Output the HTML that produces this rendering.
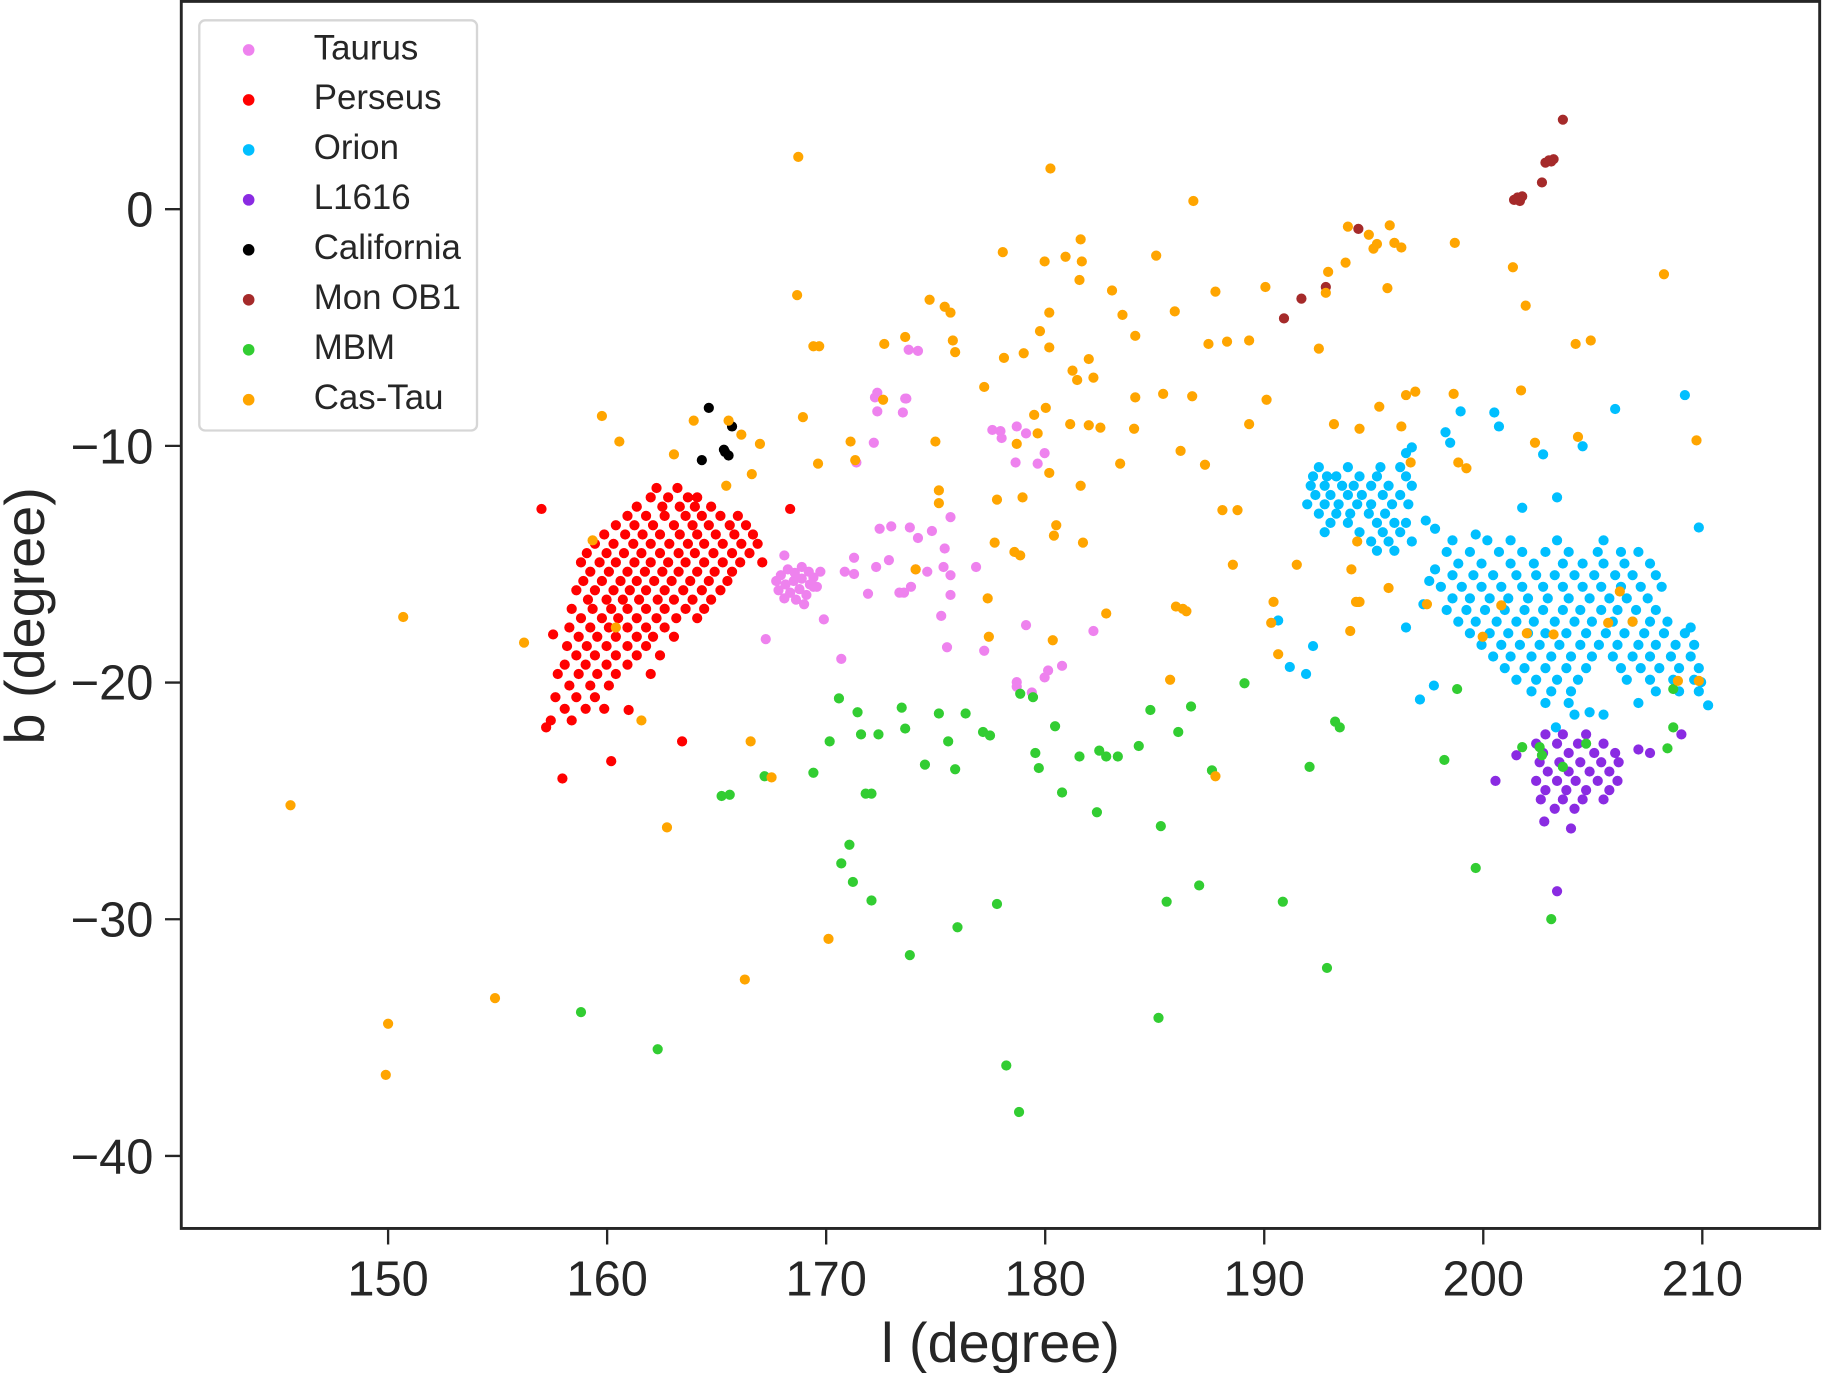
<!DOCTYPE html>
<html><head><meta charset="utf-8"><style>
html,body{margin:0;padding:0;background:#fff}
svg{display:block;font-family:"Liberation Sans",sans-serif}
path.d{fill:none;stroke-width:8.8;stroke-linecap:round}
</style></head><body>
<svg width="1822" height="1373" viewBox="0 0 1568 1181.6" xmlns="http://www.w3.org/2000/svg">
<rect width="1568" height="1182" fill="#fff"/>
<!-- Taurus -->
<path class="d" stroke="#ee82ee" d="M790 302h0M780 343h0M755 338h0M753 342h0M779 343h0M777 355h0M752 381h0M737 398h0M782 301h0M755 354h0M854 370h0M862 377h0M861 371h0M875 367h0M883 373h0M899 390h0M874 398h0M893 399h0M840 488h0M847 560h0M815 557h0M883 538h0M875 587h0M899 583h0M902 577h0M888 596h0M914 573h0M941 543h0M724 567h0M709 533h0M659 550h0M675 478h0M727 492h0M735 480h0M757 455h0M767 453h0M783 454h0M790 463h0M802 457h0M812 488h0M818 445h0M813 472h0M798 492h0M784 505h0M774 510h0M778 510h0M754 488h0M765 482h0M788 490h0M818 495h0M810 530h0M818 512h0M747 511h0M735 494h0M875 591h0M700 505h0M672 495h0M678 490h0M684 493h0M690 488h0M696 492h0M700 497h0M676 503h0M683 500h0M690 498h0M697 503h0M670 508h0M680 510h0M688 507h0M694 512h0M703 505h0M675 515h0M685 516h0M692 520h0M668 500h0M706 492h0"/>
<!-- Perseus -->
<path class="d" stroke="#ff0000" d="M565 420h0M583 420h0M560 428h0M575 428h0M592 428h0M600 428h0M548 436h0M570 436h0M585 436h0M598 436h0M612 436h0M540 444h0M556 444h0M572 444h0M590 444h0M604 444h0M620 444h0M635 444h0M530 452h0M546 452h0M562 452h0M580 452h0M596 452h0M610 452h0M628 452h0M642 452h0M520 460h0M538 460h0M553 460h0M568 460h0M585 460h0M600 460h0M616 460h0M632 460h0M648 460h0M512 468h0M528 468h0M545 468h0M560 468h0M576 468h0M592 468h0M606 468h0M622 468h0M638 468h0M652 468h0M505 476h0M522 476h0M537 476h0M552 476h0M568 476h0M584 476h0M598 476h0M614 476h0M630 476h0M645 476h0M500 484h0M516 484h0M530 484h0M546 484h0M560 484h0M575 484h0M590 484h0M606 484h0M622 484h0M637 484h0M656 484h0M508 492h0M524 492h0M540 492h0M555 492h0M570 492h0M584 492h0M600 492h0M615 492h0M630 492h0M502 500h0M518 500h0M534 500h0M548 500h0M563 500h0M578 500h0M594 500h0M610 500h0M626 500h0M496 508h0M512 508h0M528 508h0M542 508h0M556 508h0M572 508h0M588 508h0M604 508h0M620 508h0M506 516h0M522 516h0M536 516h0M550 516h0M566 516h0M580 516h0M596 516h0M612 516h0M492 524h0M510 524h0M526 524h0M540 524h0M556 524h0M572 524h0M590 524h0M606 524h0M500 532h0M518 532h0M532 532h0M548 532h0M565 532h0M582 532h0M600 532h0M490 540h0M508 540h0M524 540h0M540 540h0M556 540h0M572 540h0M498 548h0M514 548h0M530 548h0M548 548h0M562 548h0M580 548h0M488 556h0M505 556h0M522 556h0M540 556h0M556 556h0M496 564h0M512 564h0M530 564h0M548 564h0M568 564h0M486 572h0M504 572h0M522 572h0M540 572h0M480 580h0M498 580h0M514 580h0M530 580h0M560 580h0M490 590h0M508 590h0M524 590h0M478 600h0M496 600h0M512 600h0M486 610h0M504 610h0M520 610h0M474 620h0M492 620h0M466 438h0M476 546h0M470 626h0M484 670h0M526 655h0M587 638h0M541 611h0M680 438h0"/>
<!-- Orion -->
<path class="d" stroke="#00bfff" d="M1135 402h0M1160 402h0M1188 402h0M1205 402h0M1130 410h0M1142 410h0M1150 410h0M1170 410h0M1185 410h0M1210 410h0M1128 418h0M1140 418h0M1155 418h0M1165 418h0M1180 418h0M1195 418h0M1215 418h0M1132 426h0M1145 426h0M1160 426h0M1172 426h0M1190 426h0M1205 426h0M1125 434h0M1140 434h0M1152 434h0M1168 434h0M1180 434h0M1198 434h0M1212 434h0M1135 442h0M1150 442h0M1162 442h0M1178 442h0M1192 442h0M1145 450h0M1160 450h0M1185 450h0M1200 450h0M1210 450h0M1140 458h0M1170 458h0M1190 458h0M1205 458h0M1180 466h0M1195 466h0M1215 466h0M1185 474h0M1200 474h0M1250 465h0M1280 465h0M1300 465h0M1340 465h0M1380 465h0M1245 475h0M1265 475h0M1290 475h0M1310 475h0M1330 475h0M1350 475h0M1375 475h0M1395 475h0M1410 475h0M1255 485h0M1275 485h0M1300 485h0M1320 485h0M1345 485h0M1362 485h0M1380 485h0M1398 485h0M1420 485h0M1250 495h0M1268 495h0M1285 495h0M1305 495h0M1322 495h0M1338 495h0M1355 495h0M1372 495h0M1390 495h0M1405 495h0M1425 495h0M1240 505h0M1258 505h0M1275 505h0M1292 505h0M1310 505h0M1328 505h0M1345 505h0M1362 505h0M1378 505h0M1395 505h0M1412 505h0M1430 505h0M1250 515h0M1265 515h0M1282 515h0M1298 515h0M1315 515h0M1332 515h0M1350 515h0M1368 515h0M1385 515h0M1400 515h0M1418 515h0M1245 525h0M1262 525h0M1278 525h0M1295 525h0M1312 525h0M1328 525h0M1345 525h0M1360 525h0M1378 525h0M1392 525h0M1408 525h0M1425 525h0M1255 535h0M1270 535h0M1288 535h0M1305 535h0M1320 535h0M1338 535h0M1355 535h0M1370 535h0M1388 535h0M1405 535h0M1420 535h0M1435 535h0M1265 545h0M1282 545h0M1298 545h0M1315 545h0M1330 545h0M1348 545h0M1365 545h0M1382 545h0M1398 545h0M1415 545h0M1432 545h0M1450 545h0M1275 555h0M1292 555h0M1308 555h0M1325 555h0M1342 555h0M1360 555h0M1376 555h0M1392 555h0M1410 555h0M1425 555h0M1442 555h0M1458 555h0M1285 565h0M1300 565h0M1318 565h0M1335 565h0M1352 565h0M1370 565h0M1388 565h0M1405 565h0M1420 565h0M1438 565h0M1455 565h0M1295 575h0M1312 575h0M1330 575h0M1348 575h0M1365 575h0M1395 575h0M1412 575h0M1428 575h0M1445 575h0M1462 575h0M1305 585h0M1322 585h0M1340 585h0M1358 585h0M1400 585h0M1420 585h0M1440 585h0M1458 585h0M1318 595h0M1335 595h0M1352 595h0M1425 595h0M1445 595h0M1462 595h0M1330 605h0M1350 605h0M1410 605h0M1210 540h0M1225 520h0M1230 500h0M1235 490h0M1390 352h0M1450 340h0M1462 454h0M1362 384h0M1328 391h0M1340 428h0M1310 437h0M1290 367h0M1286 355h0M1270 460h0M1248 381h0M1257 354h0M1244 372h0M1210 390h0M1215 385h0M1227 448h0M1235 455h0M1100 534h0M1110 574h0M1130 556h0M1124 580h0M1222 602h0M1234 590h0M1470 607h0M1464 587h0M1455 540h0M1339 626h0M1355 615h0M1368 613h0M1380 615h0"/>
<!-- L1616 -->
<path class="d" stroke="#8a2be2" d="M1330 632h0M1345 632h0M1365 632h0M1322 640h0M1340 640h0M1358 640h0M1380 640h0M1328 648h0M1350 648h0M1372 648h0M1390 648h0M1325 656h0M1342 656h0M1360 656h0M1378 656h0M1393 656h0M1332 664h0M1350 664h0M1368 664h0M1385 664h0M1322 672h0M1340 672h0M1356 672h0M1375 672h0M1392 672h0M1330 680h0M1348 680h0M1365 680h0M1385 680h0M1326 688h0M1345 688h0M1362 688h0M1380 688h0M1338 696h0M1355 696h0M1287 672h0M1305 650h0M1340 767h0M1352 713h0M1410 645h0M1420 648h0M1447 632h0M1329 707h0"/>
<!-- California -->
<path class="d" stroke="#000" d="M610 351h0M630 367h0M624 389h0M627 392h0M604 396h0M623 387h0"/>
<!-- Mon OB1 -->
<path class="d" stroke="#a52a2a" d="M1345 103h0M1333 138h0M1337 137h0M1330 140h0M1335 139h0M1327 157h0M1306 170h0M1308 173h0M1310 169h0M1303 172h0M1169 197h0M1141 247h0M1120 257h0M1105 274h0"/>
<!-- MBM -->
<path class="d" stroke="#32cd32" d="M500 871h0M566 903h0M621 685h0M628 684h0M658 668h0M700 665h0M714 638h0M722 601h0M724 743h0M731 727h0M734 759h0M738 613h0M741 632h0M745 683h0M750 683h0M750 775h0M756 632h0M776 609h0M779 627h0M783 822h0M796 658h0M808 614h0M816 638h0M822 662h0M824 798h0M831 614h0M846 630h0M852 633h0M858 778h0M866 917h0M877 957h0M878 597h0M889 600h0M891 648h0M894 661h0M908 625h0M914 682h0M929 651h0M944 699h0M946 646h0M952 651h0M962 651h0M980 642h0M990 611h0M999 711h0M997 876h0M1004 776h0M1014 630h0M1025 608h0M1032 762h0M1043 663h0M1071 588h0M1104 776h0M1127 660h0M1142 833h0M1149 621h0M1153 626h0M1243 654h0M1254 593h0M1270 747h0M1310 643h0M1325 643h0M1335 791h0M1440 593h0M1435 644h0M1440 626h0M1365 640h0M1345 660h0M1327 650h0"/>
<!-- Cas-Tau -->
<path class="d" stroke="#ffa500" d="M250 693h0M347 531h0M334 881h0M332 925h0M426 859h0M451 553h0M518 358h0M533 380h0M510 465h0M530 540h0M552 620h0M574 712h0M580 391h0M597 362h0M627 362h0M638 374h0M654 382h0M625 418h0M647 408h0M646 638h0M641 843h0M664 669h0M687 135h0M686 254h0M700 298h0M705 298h0M691 359h0M704 399h0M713 808h0M732 380h0M736 396h0M760 344h0M761 296h0M779 290h0M800 258h0M813 264h0M818 269h0M820 293h0M822 303h0M805 380h0M808 422h0M808 433h0M788 490h0M847 333h0M863 217h0M864 308h0M881 304h0M899 225h0M895 285h0M903 269h0M903 299h0M875 382h0M890 357h0M880 428h0M858 430h0M856 467h0M850 515h0M851 548h0M873 475h0M878 478h0M893 373h0M900 351h0M903 407h0M909 452h0M907 461h0M906 551h0M904 145h0M917 221h0M930 206h0M929 241h0M931 225h0M923 319h0M927 327h0M937 309h0M941 325h0M937 366h0M921 365h0M930 418h0M932 467h0M952 528h0M947 368h0M957 250h0M966 271h0M977 289h0M977 342h0M976 369h0M964 399h0M995 220h0M1001 339h0M1011 268h0M1016 388h0M1027 173h0M1026 341h0M1037 400h0M1012 522h0M1018 524h0M1021 526h0M1007 585h0M1040 296h0M1046 251h0M1056 294h0M1052 439h0M1065 439h0M1061 486h0M1046 668h0M1075 293h0M1089 247h0M1090 344h0M1075 365h0M1096 518h0M1100 563h0M1116 486h0M1094 536h0M1135 300h0M1141 252h0M1143 234h0M1148 365h0M1158 226h0M1160 195h0M1170 369h0M1168 466h0M1163 490h0M1167 518h0M1162 543h0M1170 518h0M1178 202h0M1182 214h0M1185 210h0M1187 350h0M1196 194h0M1200 209h0M1206 213h0M1210 340h0M1206 367h0M1194 248h0M1218 337h0M1252 209h0M1251 339h0M1195 506h0M1214 398h0M1228 520h0M1255 398h0M1262 403h0M1276 548h0M1302 230h0M1309 336h0M1313 263h0M1321 381h0M1356 296h0M1358 376h0M1369 293h0M1384 536h0M1394 509h0M1405 535h0M1432 236h0M1460 379h0M1462 586h0M1444 586h0M1292 521h0M1314 545h0M1337 546h0"/>
<rect x="156" y="1.2" width="1410" height="1056" fill="none" stroke="#262626" stroke-width="2.5"/>
<g stroke="#262626" stroke-width="2">
<line x1="334" y1="1057" x2="334" y2="1071"/><line x1="522.5" y1="1057" x2="522.5" y2="1071"/><line x1="711" y1="1057" x2="711" y2="1071"/><line x1="899.5" y1="1057" x2="899.5" y2="1071"/><line x1="1088" y1="1057" x2="1088" y2="1071"/><line x1="1276.5" y1="1057" x2="1276.5" y2="1071"/><line x1="1465" y1="1057" x2="1465" y2="1071"/>
<line x1="142" y1="180" x2="156" y2="180"/><line x1="142" y1="383.7" x2="156" y2="383.7"/><line x1="142" y1="587.4" x2="156" y2="587.4"/><line x1="142" y1="791.1" x2="156" y2="791.1"/><line x1="142" y1="994.8" x2="156" y2="994.8"/>
</g>
<g font-size="42" fill="#262626" text-anchor="middle">
<text x="334" y="1115">150</text><text x="522.5" y="1115">160</text><text x="711" y="1115">170</text><text x="899.5" y="1115">180</text><text x="1088" y="1115">190</text><text x="1276.5" y="1115">200</text><text x="1465" y="1115">210</text>
</g>
<g font-size="42" fill="#262626" text-anchor="end">
<text x="132" y="195">0</text><text x="132" y="399">−10</text><text x="132" y="602">−20</text><text x="132" y="806">−30</text><text x="132" y="1010">−40</text>
</g>
<text x="861" y="1172" font-size="48" fill="#262626" text-anchor="middle">l (degree)</text>
<text transform="translate(38,530) rotate(-90)" font-size="48" fill="#262626" text-anchor="middle">b (degree)</text>
<rect x="171.5" y="17.5" width="239" height="353" rx="5" fill="#fff" fill-opacity="0.8" stroke="#d6d6d6" stroke-width="2"/>
<g font-size="30" fill="#262626">
<circle cx="214" cy="43" r="5" fill="#ee82ee"/><text x="270" y="51">Taurus</text>
<circle cx="214" cy="86" r="5" fill="#ff0000"/><text x="270" y="94">Perseus</text>
<circle cx="214" cy="129" r="5" fill="#00bfff"/><text x="270" y="137">Orion</text>
<circle cx="214" cy="172" r="5" fill="#8a2be2"/><text x="270" y="180">L1616</text>
<circle cx="214" cy="215" r="5" fill="#000"/><text x="270" y="223">California</text>
<circle cx="214" cy="258" r="5" fill="#a52a2a"/><text x="270" y="266">Mon OB1</text>
<circle cx="214" cy="301" r="5" fill="#32cd32"/><text x="270" y="309">MBM</text>
<circle cx="214" cy="344" r="5" fill="#ffa500"/><text x="270" y="352">Cas-Tau</text>
</g>
</svg>
</body></html>
